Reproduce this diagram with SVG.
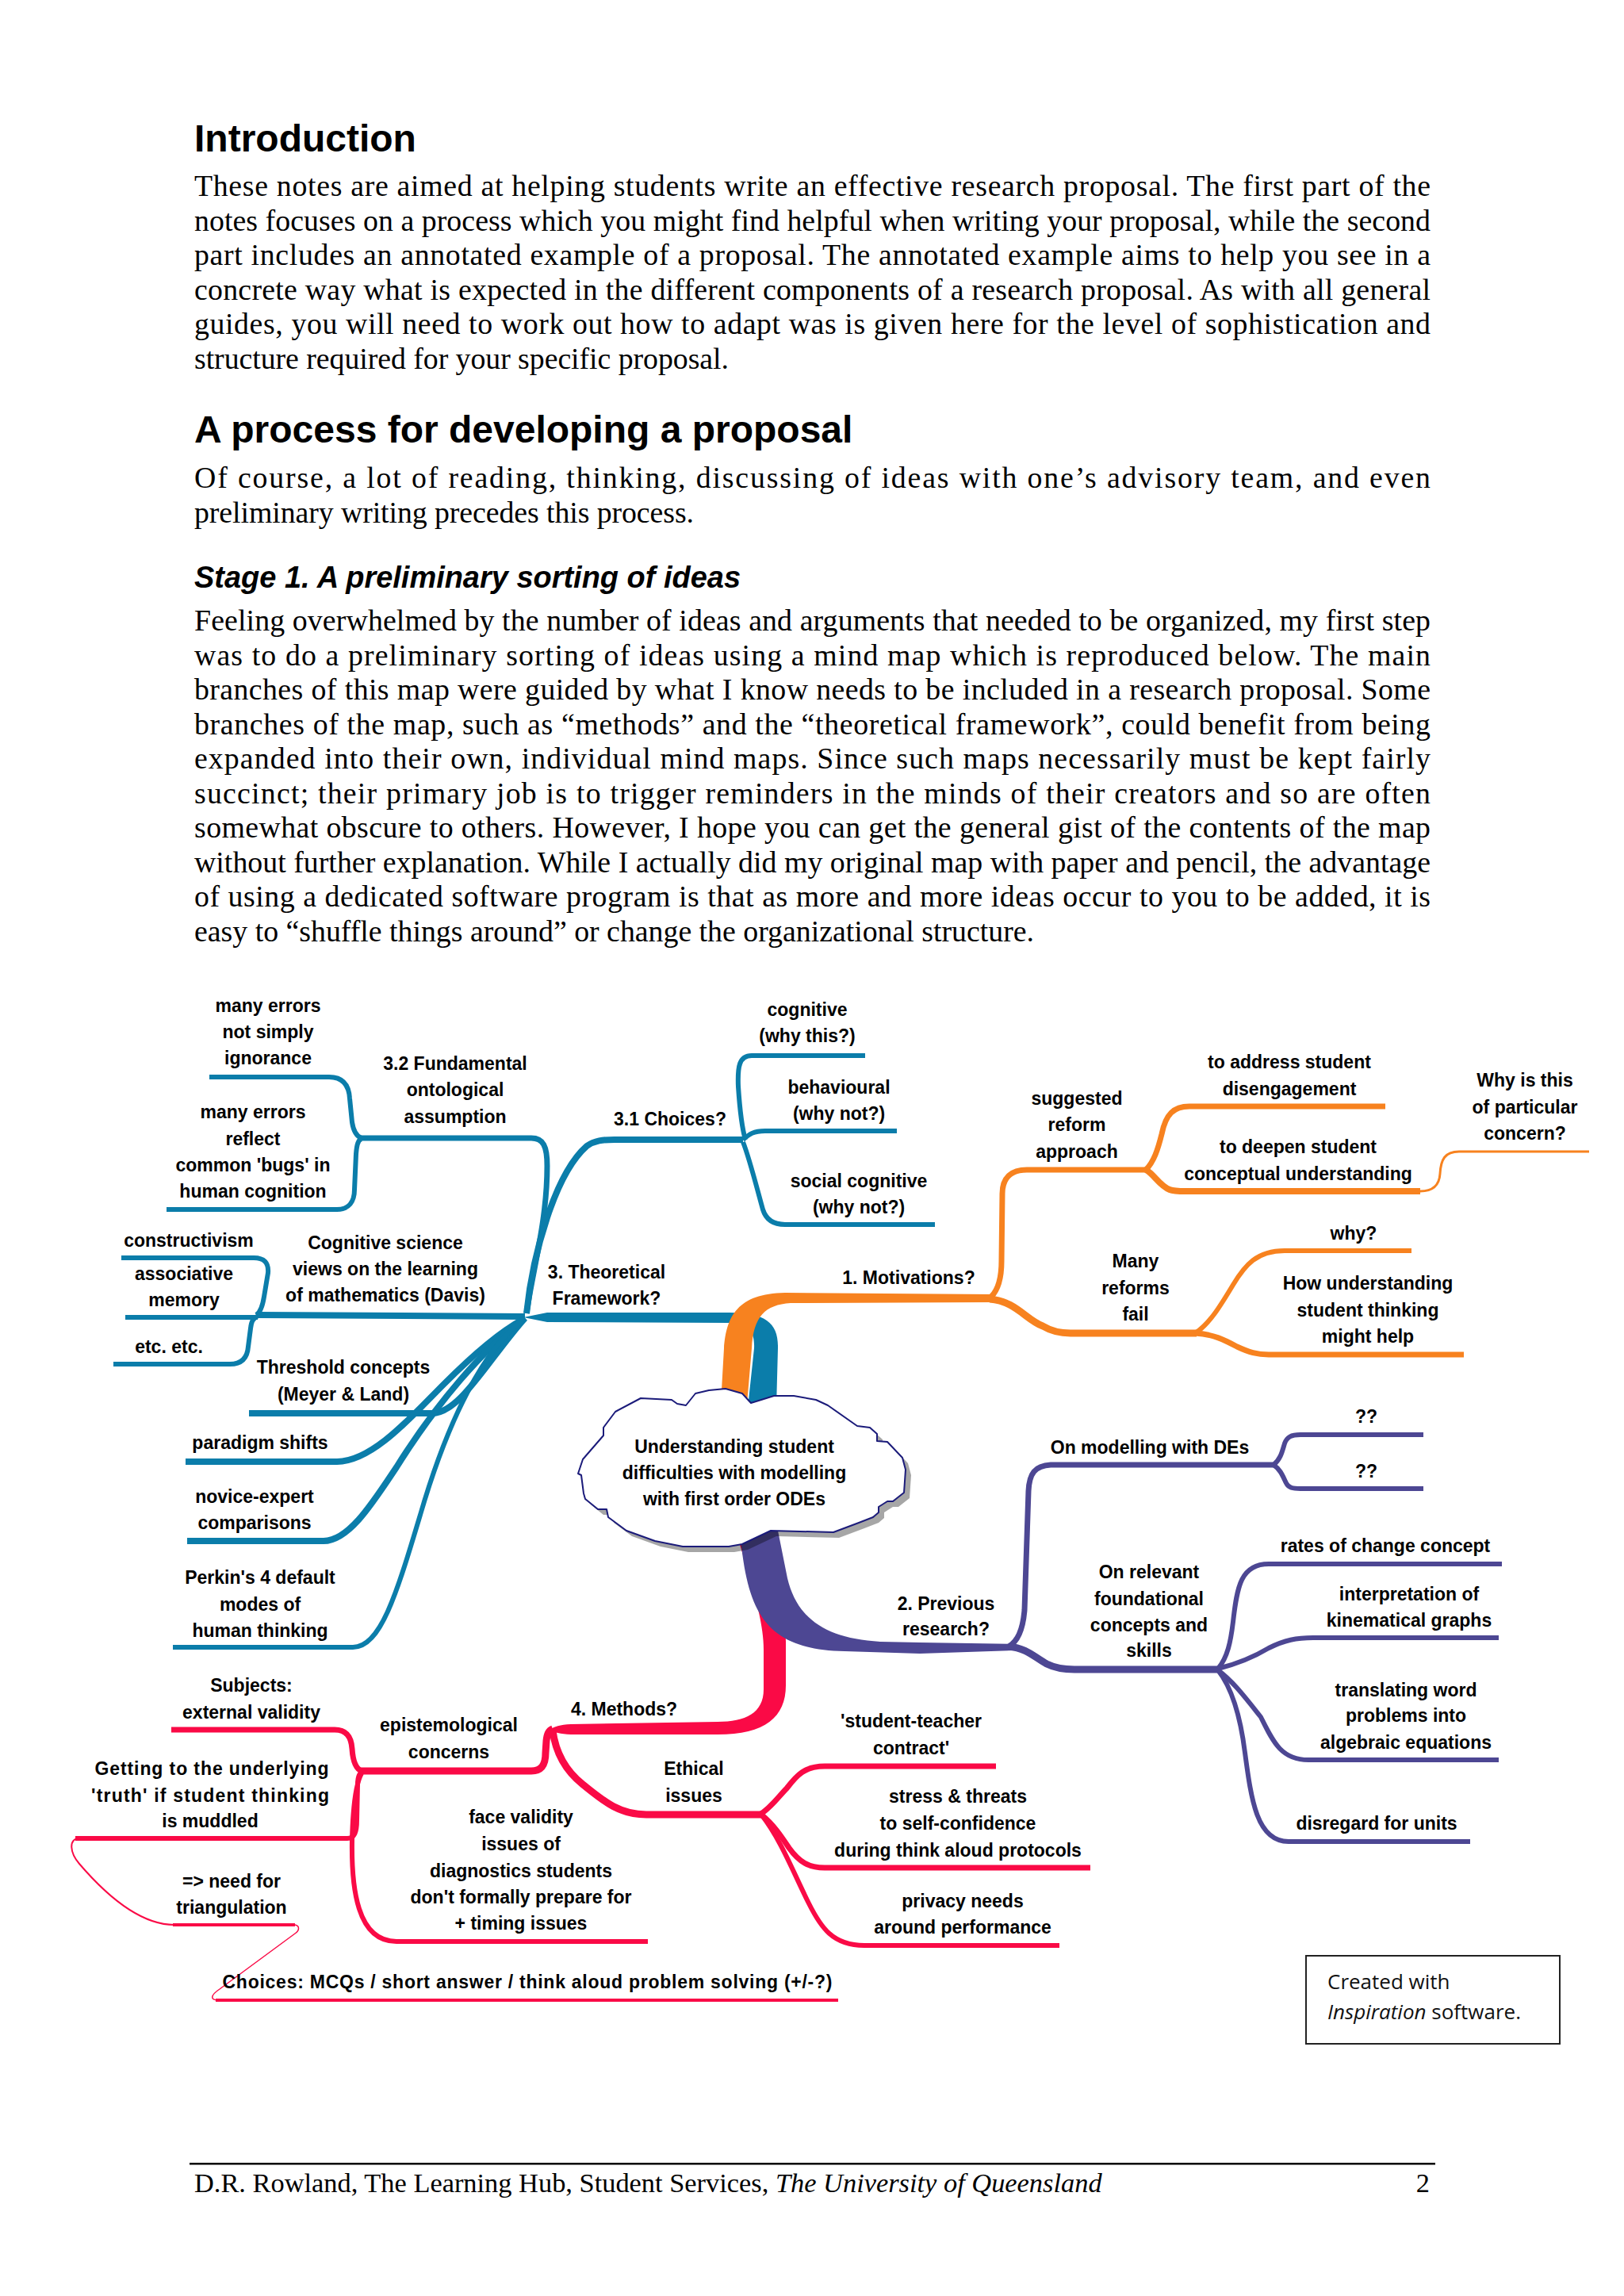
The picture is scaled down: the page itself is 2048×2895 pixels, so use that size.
<svg xmlns="http://www.w3.org/2000/svg" width="2048" height="2895" viewBox="0 0 2048 2895">
<defs>
<style>
.bd{font-family:"Liberation Serif","Times New Roman",serif;font-size:37.85px;fill:#000}
.ft{font-family:"Liberation Serif","Times New Roman",serif;font-size:34.4px;fill:#000}
.h1{font-family:"Liberation Sans",Arial,sans-serif;font-weight:bold;font-size:48px;fill:#000}
.h2{font-family:"Liberation Sans",Arial,sans-serif;font-weight:bold;font-style:italic;font-size:39px;fill:#000}
.m{font-family:"Liberation Sans",Arial,sans-serif;font-weight:bold;font-size:23px;text-anchor:middle;fill:#000}
.cr{font-family:"Open Sans","Noto Sans",sans-serif;font-size:26px;fill:#111}
.b{fill:none;stroke:#0B7DAA;stroke-linecap:butt;stroke-linejoin:round}
.o{fill:none;stroke:#F7821F;stroke-linecap:butt;stroke-linejoin:round}
.p{fill:none;stroke:#4D4793;stroke-linecap:butt;stroke-linejoin:round}
.r{fill:none;stroke:#FA0A46;stroke-linecap:butt;stroke-linejoin:round}
.w9{stroke-width:9}.w8{stroke-width:8}.w7{stroke-width:7}.w6{stroke-width:6}.w4{stroke-width:4}.w3{stroke-width:3}.w2{stroke-width:2}
</style>
</defs>
<rect width="2048" height="2895" fill="#fff"/>

<g id="document-text">
<text class="h1" x="245" y="191">Introduction</text>
<text class="bd" x="245" y="247" textLength="1559" lengthAdjust="spacing">These notes are aimed at helping students write an effective research proposal. The first part of the</text>
<text class="bd" x="245" y="290.5" textLength="1559" lengthAdjust="spacing">notes focuses on a process which you might find helpful when writing your proposal, while the second</text>
<text class="bd" x="245" y="334" textLength="1559" lengthAdjust="spacing">part includes an annotated example of a proposal. The annotated example aims to help you see in a</text>
<text class="bd" x="245" y="377.5" textLength="1559" lengthAdjust="spacing">concrete way what is expected in the different components of a research proposal. As with all general</text>
<text class="bd" x="245" y="421" textLength="1559" lengthAdjust="spacing">guides, you will need to work out how to adapt was is given here for the level of sophistication and</text>
<text class="bd" x="245" y="464.5" textLength="674" lengthAdjust="spacing">structure required for your specific proposal.</text>

<text class="h1" x="245" y="558">A process for developing a proposal</text>
<text class="bd" x="245" y="615" textLength="1559" lengthAdjust="spacing">Of course, a lot of reading, thinking, discussing of ideas with one’s advisory team, and even</text>
<text class="bd" x="245" y="658.5" textLength="630" lengthAdjust="spacing">preliminary writing precedes this process.</text>

<text class="h2" x="245" y="741" textLength="689" lengthAdjust="spacingAndGlyphs">Stage 1. A preliminary sorting of ideas</text>
<text class="bd" x="245" y="795" textLength="1559" lengthAdjust="spacing">Feeling overwhelmed by the number of ideas and arguments that needed to be organized, my first step</text>
<text class="bd" x="245" y="838.5" textLength="1559" lengthAdjust="spacing">was to do a preliminary sorting of ideas using a mind map which is reproduced below. The main</text>
<text class="bd" x="245" y="882" textLength="1559" lengthAdjust="spacing">branches of this map were guided by what I know needs to be included in a research proposal. Some</text>
<text class="bd" x="245" y="925.5" textLength="1559" lengthAdjust="spacing">branches of the map, such as “methods” and the “theoretical framework”, could benefit from being</text>
<text class="bd" x="245" y="969" textLength="1559" lengthAdjust="spacing">expanded into their own, individual mind maps. Since such maps necessarily must be kept fairly</text>
<text class="bd" x="245" y="1012.5" textLength="1559" lengthAdjust="spacing">succinct; their primary job is to trigger reminders in the minds of their creators and so are often</text>
<text class="bd" x="245" y="1056" textLength="1559" lengthAdjust="spacing">somewhat obscure to others. However, I hope you can get the general gist of the contents of the map</text>
<text class="bd" x="245" y="1099.5" textLength="1559" lengthAdjust="spacing">without further explanation. While I actually did my original map with paper and pencil, the advantage</text>
<text class="bd" x="245" y="1143" textLength="1559" lengthAdjust="spacing">of using a dedicated software program is that as more and more ideas occur to you to be added, it is</text>
<text class="bd" x="245" y="1186.5" textLength="1059" lengthAdjust="spacing">easy to “shuffle things around” or change the organizational structure.</text>
</g>

<g id="connectors">
<path id="trunk-theory" fill="#0B7DAA" d="M943,1775 L951,1700 C952,1680 945,1669 920,1668 L690,1667 L660,1661 L690,1655 L920,1655 C965,1655 982,1668 981,1700 L979,1775 Z"/>
<path id="trunk-motiv" fill="#F7821F" d="M909,1770 L913,1700 C916,1660 930,1631 990,1630 L1252,1632 L1252,1642 L997,1643 C965,1645 950,1660 948,1700 L942,1770 Z"/>
<path id="trunk-methods" fill="#FA0A46" d="M928,1930 C945,1990 963,2040 963,2080 L963,2130 C963,2160 940,2171 905,2171 L720,2174 Q700,2175 694,2181 Q700,2186 720,2187 L905,2187 C965,2187 991,2165 991,2125 L991,2070 C991,2030 962,1985 942,1930 Z"/>
<path id="trunk-previous" fill="#4D4793" d="M933,1930 C942,2030 962,2080 1065,2082 L1160,2085 L1280,2081 L1280,2073 L1160,2071 L1110,2070 C1040,2066 1005,2040 993,1990 L981,1930 Z"/>

<path class="b w7" d="M664,1656 C672,1600 690,1540 690,1470 C690,1445 685,1435 670,1435 L452,1435"/>
<path class="b w8" d="M664,1656 C672,1580 700,1480 740,1445 C750,1438 760,1437 775,1437 L937,1437"/>
<path class="b w6" d="M264,1358 L415,1358 C432,1358 440,1368 441,1385 L444,1415 C446,1428 450,1433 456,1435"/>
<path class="b w6" d="M210,1525 L425,1525 C440,1525 447,1515 447,1500 L449,1455 C450,1442 452,1437 456,1436"/>
<path class="b w6" d="M940,1437 C935,1420 933,1400 931,1370 C930,1345 932,1331 948,1331 L1091,1331"/>
<path class="b w6" d="M937,1437 C945,1430 950,1426 965,1426 L1131,1426"/>
<path class="b w6" d="M937,1440 C945,1460 955,1500 962,1525 C966,1538 975,1544 990,1544 L1179,1544"/>
<path class="b w8" d="M325,1658 L662,1660"/>
<path class="b w6" d="M153,1586 L320,1586 C333,1586 339,1592 338,1605 L333,1635 C331,1648 328,1655 323,1658"/>
<path class="b w6" d="M158,1661 L325,1661"/>
<path class="b w6" d="M143,1720 L290,1720 C305,1720 312,1712 313,1698 L316,1675 C317,1665 320,1661 325,1660"/>
<path class="b w8" d="M314,1782 L545,1782 C580,1782 615,1715 662,1662"/>
<path class="b w8" d="M234,1843 L425,1843 C470,1843 520,1785 560,1745 C600,1705 630,1680 662,1662"/>
<path class="b w8" d="M236,1943 L408,1943 C440,1943 470,1895 500,1850 C550,1770 610,1700 662,1662"/>
<path class="b w6" d="M218,2077 L445,2077 C480,2077 500,2010 530,1910 C565,1790 610,1700 662,1662"/>

<path class="o w7" d="M1250,1635 C1260,1625 1263,1610 1263,1590 L1264,1505 C1264,1485 1275,1475 1295,1475 L1447,1475"/>
<path class="o w9" d="M1248,1638 C1280,1640 1295,1665 1315,1672 C1325,1678 1335,1681 1350,1681 L1509,1681"/>
<path class="o w7" d="M1445,1475 C1455,1465 1460,1450 1465,1430 C1470,1405 1480,1395 1500,1395 L1747,1395"/>
<path class="o w8" d="M1445,1475 C1455,1480 1462,1495 1475,1500 C1480,1502 1485,1502 1495,1502 L1791,1502"/>
<path class="o w3" d="M1791,1502 C1805,1502 1815,1496 1816,1480 C1817,1462 1822,1452 1840,1452 L2004,1452"/>
<path class="o w6" d="M1507,1681 C1525,1670 1540,1645 1555,1620 C1570,1595 1585,1577 1620,1577 L1780,1577"/>
<path class="o w7" d="M1507,1681 C1530,1682 1545,1690 1560,1698 C1575,1705 1585,1708 1600,1708 L1846,1708"/>

<path class="p w7" d="M1272,2076 C1283,2070 1290,2055 1292,2030 L1297,1880 C1298,1858 1305,1848 1325,1847 L1608,1847"/>
<path class="p w9" d="M1272,2076 C1295,2078 1305,2090 1320,2098 C1330,2103 1340,2105 1355,2105 L1538,2105"/>
<path class="p w6" d="M1606,1847 C1615,1840 1617,1830 1620,1820 C1623,1812 1628,1809 1640,1809 L1795,1809"/>
<path class="p w6" d="M1606,1847 C1615,1853 1618,1862 1622,1870 C1625,1876 1630,1877 1640,1877 L1795,1877"/>
<path class="p w6" d="M1536,2104 C1548,2090 1552,2070 1555,2045 C1560,2000 1565,1972 1600,1972 L1894,1972"/>
<path class="p w6" d="M1536,2104 C1560,2098 1580,2090 1600,2078 C1620,2068 1635,2065 1656,2065 L1890,2065"/>
<path class="p w6" d="M1536,2106 C1555,2120 1570,2140 1590,2165 C1605,2195 1615,2219 1650,2219 L1890,2219"/>
<path class="p w6" d="M1536,2106 C1555,2130 1565,2170 1570,2210 C1578,2270 1585,2322 1625,2322 L1854,2322"/>

<path class="r w9" d="M452,2233 L670,2233 C683,2233 688,2225 688,2210 L689,2195 C690,2186 692,2182 697,2180"/>
<path class="r w9" d="M697,2182 C700,2205 710,2230 735,2250 C760,2270 780,2288 815,2288 L963,2288"/>
<path class="r w7" d="M216,2181 L422,2181 C437,2181 443,2190 444,2205 C445,2220 448,2230 456,2233"/>
<path class="r w6" d="M95,2318 L438,2318 C447,2318 450,2310 450,2295 L451,2250 C451,2240 453,2235 458,2234"/>
<path class="r w6" d="M456,2236 C448,2250 445,2280 444,2320 C443,2380 450,2448 500,2448 L817,2448"/>
<path class="r w2" d="M100,2318 C86,2318 88,2336 100,2350 C130,2385 175,2427 220,2427"/>
<path class="r w4" d="M218,2427 L372,2427"/>
<path class="r" stroke-width="1.5" d="M372,2427 C378,2428 378,2434 372,2438 L277,2508 C265,2516 265,2522 275,2522"/>
<path class="r w4" d="M272,2522 L1057,2522"/>
<path class="r w7" d="M958,2288 C972,2280 982,2265 992,2255 C1005,2238 1015,2227 1040,2227 L1256,2227"/>
<path class="r w7" d="M960,2288 C975,2300 985,2315 995,2330 C1008,2348 1020,2355 1040,2355 L1375,2355"/>
<path class="r w6" d="M960,2288 C985,2320 1000,2360 1020,2400 C1035,2430 1050,2453 1090,2453 L1336,2453"/>
</g>

<g id="n-root">
<path transform="translate(7,7)" fill="#000" fill-opacity="0.35" d="M865,1772 L877,1757 L894,1753 L915,1751 L936,1757 L947,1769 L960,1765 L976,1760 L1001,1760 L1029,1765 L1044,1772 L1081,1798 L1097,1800 L1106,1808 L1106,1817 L1119,1818 L1138,1838 L1142,1853 L1140,1882 L1126,1893 L1119,1893 L1108,1900 L1108,1907 L1101,1913 L1083,1920 L1051,1932 L972,1930 L936,1947 L919,1950 L861,1950 L826,1943 L790,1930 L767,1913 L765,1903 L754,1903 L738,1890 L736,1883 L733,1860 L729,1858 L735,1840 L761,1810 L761,1800 L776,1780 L808,1763 L847,1765 L854,1770 Z"/>
<path fill="#fff" stroke="#1B1B7A" stroke-width="2" stroke-linejoin="round" d="M865,1772 L877,1757 L894,1753 L915,1751 L936,1757 L947,1769 L960,1765 L976,1760 L1001,1760 L1029,1765 L1044,1772 L1081,1798 L1097,1800 L1106,1808 L1106,1817 L1119,1818 L1138,1838 L1142,1853 L1140,1882 L1126,1893 L1119,1893 L1108,1900 L1108,1907 L1101,1913 L1083,1920 L1051,1932 L972,1930 L936,1947 L919,1950 L861,1950 L826,1943 L790,1930 L767,1913 L765,1903 L754,1903 L738,1890 L736,1883 L733,1860 L729,1858 L735,1840 L761,1810 L761,1800 L776,1780 L808,1763 L847,1765 L854,1770 Z"/>
<text class="m" x="926" y="1832">Understanding student</text>
<text class="m" x="926" y="1865">difficulties with modelling</text>
<text class="m" x="926" y="1898">with first order ODEs</text>
</g>

<g id="n-motivations"><text class="m" x="1146" y="1619">1. Motivations?</text></g>
<g id="n-suggested"><text class="m" x="1358" y="1393">suggested</text><text class="m" x="1358" y="1426">reform</text><text class="m" x="1358" y="1460">approach</text></g>
<g id="n-address"><text class="m" x="1626" y="1347">to address student</text><text class="m" x="1626" y="1381">disengagement</text></g>
<g id="n-deepen"><text class="m" x="1637" y="1454">to deepen student</text><text class="m" x="1637" y="1488">conceptual understanding</text></g>
<g id="n-whyis"><text class="m" x="1923" y="1370">Why is this</text><text class="m" x="1923" y="1404">of particular</text><text class="m" x="1923" y="1437">concern?</text></g>
<g id="n-many"><text class="m" x="1432" y="1598">Many</text><text class="m" x="1432" y="1632">reforms</text><text class="m" x="1432" y="1665">fail</text></g>
<g id="n-why"><text class="m" x="1707" y="1563">why?</text></g>
<g id="n-how"><text class="m" x="1725" y="1626">How understanding</text><text class="m" x="1725" y="1660">student thinking</text><text class="m" x="1725" y="1693">might help</text></g>

<g id="n-theory"><text class="m" x="765" y="1612">3. Theoretical</text><text class="m" x="765" y="1645">Framework?</text></g>
<g id="n-ontological"><text class="m" x="574" y="1349">3.2 Fundamental</text><text class="m" x="574" y="1382">ontological</text><text class="m" x="574" y="1416">assumption</text></g>
<g id="n-notsimply"><text class="m" x="338" y="1276">many errors</text><text class="m" x="338" y="1309">not simply</text><text class="m" x="338" y="1342">ignorance</text></g>
<g id="n-reflect"><text class="m" x="319" y="1410">many errors</text><text class="m" x="319" y="1444">reflect</text><text class="m" x="319" y="1477">common 'bugs' in</text><text class="m" x="319" y="1510">human cognition</text></g>
<g id="n-choices31"><text class="m" x="845" y="1419">3.1 Choices?</text></g>
<g id="n-cognitive"><text class="m" x="1018" y="1281">cognitive</text><text class="m" x="1018" y="1314">(why this?)</text></g>
<g id="n-behavioural"><text class="m" x="1058" y="1379">behavioural</text><text class="m" x="1058" y="1412">(why not?)</text></g>
<g id="n-social"><text class="m" x="1083" y="1497">social cognitive</text><text class="m" x="1083" y="1530">(why not?)</text></g>
<g id="n-davis"><text class="m" x="486" y="1575">Cognitive science</text><text class="m" x="486" y="1608">views on the learning</text><text class="m" x="486" y="1641">of mathematics (Davis)</text></g>
<g id="n-constructivism"><text class="m" x="238" y="1572">constructivism</text></g>
<g id="n-associative"><text class="m" x="232" y="1614">associative</text><text class="m" x="232" y="1647">memory</text></g>
<g id="n-etc"><text class="m" x="213" y="1706">etc. etc.</text></g>
<g id="n-threshold"><text class="m" x="433" y="1732">Threshold concepts</text><text class="m" x="433" y="1766">(Meyer &amp; Land)</text></g>
<g id="n-paradigm"><text class="m" x="328" y="1827">paradigm shifts</text></g>
<g id="n-novice"><text class="m" x="321" y="1895">novice-expert</text><text class="m" x="321" y="1928">comparisons</text></g>
<g id="n-perkin"><text class="m" x="328" y="1997">Perkin's 4 default</text><text class="m" x="328" y="2031">modes of</text><text class="m" x="328" y="2064">human thinking</text></g>

<g id="n-previous"><text class="m" x="1193" y="2030">2. Previous</text><text class="m" x="1193" y="2062">research?</text></g>
<g id="n-des"><text class="m" x="1450" y="1833">On modelling with DEs</text></g>
<g id="n-q1"><text class="m" x="1723" y="1794">??</text></g>
<g id="n-q2"><text class="m" x="1723" y="1863">??</text></g>
<g id="n-relevant"><text class="m" x="1449" y="1990">On relevant</text><text class="m" x="1449" y="2024">foundational</text><text class="m" x="1449" y="2057">concepts and</text><text class="m" x="1449" y="2089">skills</text></g>
<g id="n-rates"><text class="m" x="1747" y="1957">rates of change concept</text></g>
<g id="n-interp"><text class="m" x="1777" y="2018">interpretation of</text><text class="m" x="1777" y="2051">kinematical graphs</text></g>
<g id="n-translating"><text class="m" x="1773" y="2139">translating word</text><text class="m" x="1773" y="2171">problems into</text><text class="m" x="1773" y="2205">algebraic equations</text></g>
<g id="n-disregard"><text class="m" x="1736" y="2307">disregard for units</text></g>

<g id="n-methods"><text class="m" x="787" y="2163">4. Methods?</text></g>
<g id="n-epist"><text class="m" x="566" y="2183">epistemological</text><text class="m" x="566" y="2217">concerns</text></g>
<g id="n-subjects"><text class="m" x="317" y="2133">Subjects:</text><text class="m" x="317" y="2167">external validity</text></g>
<g id="n-getting"><text class="m" x="267" y="2238" textLength="295" lengthAdjust="spacing">Getting to the underlying</text><text class="m" x="265" y="2272" textLength="300" lengthAdjust="spacing">'truth' if student thinking</text><text class="m" x="265" y="2304">is muddled</text></g>
<g id="n-triangulation"><text class="m" x="292" y="2380">=&gt; need for</text><text class="m" x="292" y="2413">triangulation</text></g>
<g id="n-face"><text class="m" x="657" y="2299">face validity</text><text class="m" x="657" y="2333">issues of</text><text class="m" x="657" y="2367">diagnostics students</text><text class="m" x="657" y="2400">don't formally prepare for</text><text class="m" x="657" y="2433">+ timing issues</text></g>
<g id="n-choices"><text class="m" x="665" y="2507" textLength="769" lengthAdjust="spacing">Choices: MCQs / short answer / think aloud problem solving (+/-?)</text></g>
<g id="n-ethical"><text class="m" x="875" y="2238">Ethical</text><text class="m" x="875" y="2272">issues</text></g>
<g id="n-contract"><text class="m" x="1149" y="2178">'student-teacher</text><text class="m" x="1149" y="2212">contract'</text></g>
<g id="n-stress"><text class="m" x="1208" y="2273">stress &amp; threats</text><text class="m" x="1208" y="2307">to self-confidence</text><text class="m" x="1208" y="2341">during think aloud protocols</text></g>
<g id="n-privacy"><text class="m" x="1214" y="2405">privacy needs</text><text class="m" x="1214" y="2438">around performance</text></g>

<g id="credit-box">
<rect x="1647" y="2466" width="320" height="111" fill="#fff" stroke="#222" stroke-width="2"/>
<text class="cr" x="1674" y="2508">Created with</text>
<text class="cr" x="1674" y="2546"><tspan font-style="italic">Inspiration</tspan> software.</text>
</g>

<g id="footer">
<rect x="239" y="2727" width="1571" height="2.5" fill="#000"/>
<text class="ft" x="245" y="2764">D.R. Rowland, The Learning Hub, Student Services, <tspan font-style="italic">The University of Queensland</tspan></text>
<text class="ft" x="1803" y="2764" text-anchor="end">2</text>
</g>
</svg>
